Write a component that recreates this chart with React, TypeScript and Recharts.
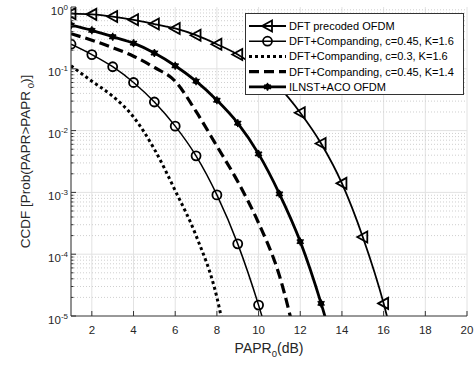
import React from 'react';
import { LineChart, Line, XAxis, YAxis, CartesianGrid, ReferenceLine, Label } from 'recharts';

const FONT = '"Liberation Sans", Arial, Helvetica, sans-serif';
const AX = '#333333';
const TXT = '#262626';

// PAPR0 (dB) sample points, one per marker
const PAPR_DB = [1, 2, 3, 4, 5, 6, 7, 8, 9, 10, 11, 12, 13, 14, 15, 16, 17];

// CCDF values (last value of each sits below 1e-5, so the line runs out of the box)
const DFT_OFDM = [0.78, 0.76, 0.7, 0.62, 0.53, 0.45, 0.35, 0.25, 0.17, 0.1, 0.05, 0.0195, 6.2e-3, 1.4e-3, 1.9e-4, 1.6e-5, 6e-7];
const COMP_045_16 = [0.25, 0.17, 0.108, 0.06, 0.029, 0.0118, 3.9e-3, 9.1e-4, 1.47e-4, 1.5e-5, 1e-6];
const COMP_03_16 = [0.112, 0.063, 0.036, 0.0166, 5e-3, 1.07e-3, 2e-4, 2e-5, 3e-7];
const COMP_045_14 = [0.37, 0.29, 0.22, 0.16, 0.105, 0.063, 0.0204, 5.6e-3, 1.5e-3, 3.2e-4, 4.5e-5, 2e-6];
const ILNST_ACO = [0.51, 0.42, 0.33, 0.26, 0.18, 0.112, 0.063, 0.031, 0.0132, 4.2e-3, 9.5e-4, 1.6e-4, 1.6e-5, 1e-6];

const LEGEND_NAMES = [
  'DFT precoded OFDM',
  'DFT+Companding, c=0.45, K=1.6',
  'DFT+Companding, c=0.3, K=1.6',
  'DFT+Companding, c=0.45, K=1.4',
  'ILNST+ACO OFDM',
];

const X_TICKS = [2, 4, 6, 8, 10, 12, 14, 16, 18, 20];
const Y_DECADES = [1e-5, 1e-4, 1e-3, 1e-2, 1e-1, 1];
const Y_MINOR: number[] = [];
Y_DECADES.slice(0, -1).forEach((d) => {
  for (let k = 2; k <= 9; k++) Y_MINOR.push(k * d);
});
const Y_TICKS = [...Y_DECADES, ...Y_MINOR].sort((a, b) => a - b);

const toData = (vals: number[]) => vals.map((v, i) => ({ x: PAPR_DB[i], y: v }));

const isMajor = (v: number) => {
  const e = Math.log10(v);
  return Math.abs(e - Math.round(e)) < 1e-6;
};

// ---- markers ----
const Tri = ({ cx, cy }: { cx: number; cy: number }) => (
  <polygon points={`${cx - 5.5},${cy} ${cx + 4.5},${cy - 5.5} ${cx + 4.5},${cy + 5.5}`} fill="none" stroke="#000" strokeWidth={1.8} />
);
const Circ = ({ cx, cy }: { cx: number; cy: number }) => (
  <circle cx={cx} cy={cy} r={4.5} fill="none" stroke="#000" strokeWidth={1.8} />
);
const Star = ({ cx, cy }: { cx: number; cy: number }) => (
  <g stroke="#000" strokeWidth={1.5}>
    <line x1={cx} x2={cx} y1={cy - 4} y2={cy + 4} />
    <line x1={cx - 3.5} x2={cx + 3.5} y1={cy - 2} y2={cy + 2} />
    <line x1={cx - 3.5} x2={cx + 3.5} y1={cy + 2} y2={cy - 2} />
    <circle cx={cx} cy={cy} r={2.2} fill="#000" />
  </g>
);

const makeDot = (M: React.FC<{ cx: number; cy: number }>) => (p: any) => {
  const { cx, cy, payload, index } = p;
  if (cx == null || cy == null || payload.y < 1e-5) return <g key={index} />;
  return <g key={index}><M cx={cx} cy={cy} /></g>;
};

// ---- ticks (MATLAB style: pointing inward) ----
const LeftTick = (props: any) => {
  const { x, y, payload } = props;
  const v = payload.value;
  const major = isMajor(v);
  return (
    <g>
      <line x1={x} x2={x + (major ? 5 : 2.5)} y1={y} y2={y} stroke={AX} />
      {major && (
        <text x={x - 3} y={y + 7.5} textAnchor="end" fontSize={11.5} fill={TXT} fontFamily={FONT}>
          10<tspan dy={-5} fontSize={8}>{Math.round(Math.log10(v))}</tspan>
        </text>
      )}
    </g>
  );
};
const RightTick = (props: any) => {
  const { x, y, payload } = props;
  const major = isMajor(payload.value);
  return <line x1={x} x2={x - (major ? 5 : 2.5)} y1={y} y2={y} stroke={AX} />;
};
const BottomTick = (props: any) => {
  const { x, y, payload } = props;
  return (
    <g>
      <line x1={x} x2={x} y1={y} y2={y - 5} stroke={AX} />
      <text x={x} y={y + 18} textAnchor="middle" fontSize={11.5} fill={TXT} fontFamily={FONT}>
        {payload.value}
      </text>
    </g>
  );
};
const TopTick = (props: any) => {
  const { x, y } = props;
  return <line x1={x} x2={x} y1={y} y2={y + 5} stroke={AX} />;
};

const XLabel = (props: any) => {
  const { x, y, width } = props.viewBox;
  return (
    <text x={x + width / 2} y={y + 37} textAnchor="middle" fontSize={14} fill={TXT} fontFamily={FONT}>
      PAPR<tspan dy={4} fontSize={9.5}>0</tspan>
      <tspan dy={-4}>(dB)</tspan>
    </text>
  );
};
const YLabel = (props: any) => {
  const { y, height } = props.viewBox;
  const cx = 30;
  const cy = y + height / 2;
  return (
    <text x={cx} y={cy} textAnchor="middle" fontSize={13.5} fill={TXT} fontFamily={FONT} transform={`rotate(-90, ${cx}, ${cy})`}>
      CCDF [Prob(PAPR&gt;PAPR<tspan dy={4} fontSize={9.5}> 0</tspan>
      <tspan dy={-4}>)]</tspan>
    </text>
  );
};

const SERIES = [
  { data: DFT_OFDM, width: 1.8, dash: undefined, marker: Tri },
  { data: COMP_045_16, width: 1.5, dash: undefined, marker: Circ },
  { data: COMP_03_16, width: 3, dash: '3 3', marker: null },
  { data: COMP_045_14, width: 3.2, dash: '10 5', marker: null },
  { data: ILNST_ACO, width: 2.8, dash: undefined, marker: Star },
];

const LegendBox = () => (
  <div
    style={{
      position: 'absolute', left: 245, top: 13, width: 219, height: 82,
      background: '#fff', border: `1px solid ${AX}`, boxSizing: 'border-box',
    }}
  >
    <svg width={217} height={80} style={{ display: 'block' }}>
      {SERIES.map((s, i) => {
        const cy = 12 + i * 15.2;
        const M = s.marker;
        return (
          <g key={i}>
            <line x1={3} x2={40} y1={cy} y2={cy} stroke="#000" strokeWidth={s.width} strokeDasharray={s.dash} />
            {M && <M cx={21.5} cy={cy} />}
            <text x={43} y={cy + 4} fontSize={11} fill="#000" fontFamily={FONT}>{LEGEND_NAMES[i]}</text>
          </g>
        );
      })}
    </svg>
  </div>
);

export default function App() {
  return (
    <div style={{ position: 'absolute', left: 0, top: 0, width: 474, height: 376, background: '#fff', fontFamily: FONT }}>
      <LineChart width={474} height={376} margin={{ top: 7, right: 7, bottom: 0, left: 0 }}>
        <CartesianGrid horizontal={false} stroke="#e2e2e2" />
        {Y_MINOR.map((v) => (
          <ReferenceLine key={`mn${v}`} y={v} stroke="#cfcfcf" strokeDasharray="1 2" />
        ))}
        {Y_DECADES.slice(1, -1).map((v) => (
          <ReferenceLine key={`mj${v}`} y={v} stroke="#e2e2e2" />
        ))}
        <XAxis
          dataKey="x" type="number" domain={[1, 20]} ticks={X_TICKS} interval={0} allowDataOverflow
          height={60} tickSize={0} tickMargin={0} tickLine={false} axisLine={{ stroke: AX }} tick={<BottomTick />}
        >
          <Label content={<XLabel />} />
        </XAxis>
        <XAxis
          xAxisId="top" orientation="top" type="number" domain={[1, 20]} ticks={X_TICKS} interval={0}
          height={0} tickSize={0} tickMargin={0} tickLine={false} axisLine={{ stroke: AX }} tick={<TopTick />}
        />
        <YAxis
          type="number" scale="log" domain={[1e-5, 1]} allowDataOverflow ticks={Y_TICKS} interval={0}
          width={71} tickSize={0} tickMargin={0} tickLine={false} axisLine={{ stroke: AX }} tick={<LeftTick />}
        >
          <Label content={<YLabel />} />
        </YAxis>
        <YAxis
          yAxisId="right" orientation="right" type="number" scale="log" domain={[1e-5, 1]} allowDataOverflow
          ticks={Y_TICKS} interval={0} width={0} tickSize={0} tickMargin={0} tickLine={false}
          axisLine={{ stroke: AX }} tick={<RightTick />}
        />
        {SERIES.map((s, i) => (
          <Line
            key={i}
            data={toData(s.data)}
            dataKey="y"
            type="monotone"
            stroke="#000"
            strokeWidth={s.width}
            strokeDasharray={s.dash}
            dot={s.marker ? makeDot(s.marker) : false}
            activeDot={false}
            isAnimationActive={false}
          />
        ))}
      </LineChart>
      <LegendBox />
    </div>
  );
}
